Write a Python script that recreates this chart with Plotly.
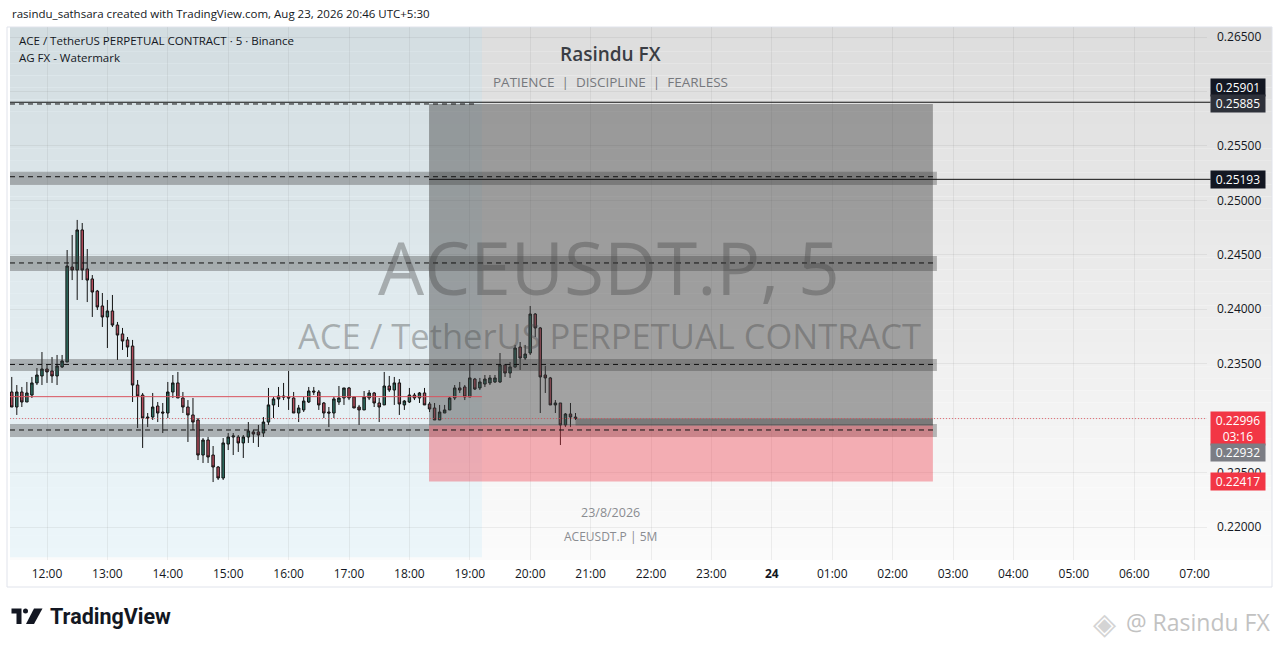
import pandas as pd
import plotly.graph_objects as go

# ---------------- data ----------------
start_time = "2026-08-23 11:25"   # first 5-minute candle

opens = [
    0.23240, 0.23102, 0.23240, 0.23148, 0.23212, 0.23323, 0.23387, 0.23451, 0.23433, 0.23387,
    0.23470, 0.23515, 0.24388, 0.24360, 0.24728, 0.24370, 0.24278, 0.24167, 0.24030, 0.23929,
    0.23984, 0.23855, 0.23773, 0.23718, 0.23662, 0.23304, 0.23212, 0.23010, 0.23010, 0.23111,
    0.23056, 0.23047, 0.23240, 0.23323, 0.23185, 0.23102, 0.23029, 0.22983, 0.22661, 0.22799,
    0.22661, 0.22551, 0.22450, 0.22762, 0.22827, 0.22827, 0.22772, 0.22827, 0.22873, 0.22873,
    0.22863, 0.22964, 0.23121, 0.23176, 0.23203, 0.23194, 0.23185, 0.23047, 0.23075, 0.23148,
    0.23249, 0.23240, 0.23139, 0.23056, 0.23047, 0.23148, 0.23185, 0.23277, 0.23194, 0.23102,
    0.23075, 0.23185, 0.23231, 0.23139, 0.23121, 0.23295, 0.23258, 0.23323, 0.23121, 0.23148,
    0.23212, 0.23185, 0.23231, 0.23130, 0.23093, 0.22983, 0.23047, 0.23075, 0.23185, 0.23277,
    0.23286, 0.23194, 0.23359, 0.23277, 0.23313, 0.23323, 0.23332, 0.23332, 0.23488, 0.23414,
    0.23470, 0.23653, 0.23552, 0.23598, 0.23956, 0.23828, 0.23396, 0.23369, 0.23121, 0.23139,
    0.22937, 0.23038, 0.23010,
]
highs = [
    0.23378, 0.23304, 0.23286, 0.23332, 0.23378, 0.23460, 0.23607, 0.23488, 0.23561, 0.23580,
    0.23580, 0.24544, 0.24682, 0.24820, 0.24792, 0.24553, 0.24314, 0.24177, 0.24149, 0.24085,
    0.24131, 0.23883, 0.23828, 0.23745, 0.23718, 0.23350, 0.23231, 0.23047, 0.23231, 0.23148,
    0.23139, 0.23332, 0.23396, 0.23424, 0.23240, 0.23166, 0.23185, 0.23001, 0.22817, 0.22827,
    0.22744, 0.22560, 0.22817, 0.22863, 0.22863, 0.22845, 0.22845, 0.22964, 0.22891, 0.22937,
    0.23010, 0.23277, 0.23194, 0.23286, 0.23323, 0.23433, 0.23240, 0.23121, 0.23194, 0.23286,
    0.23286, 0.23258, 0.23148, 0.23102, 0.23194, 0.23295, 0.23277, 0.23286, 0.23194, 0.23121,
    0.23249, 0.23258, 0.23240, 0.23185, 0.23424, 0.23387, 0.23378, 0.23359, 0.23166, 0.23277,
    0.23231, 0.23240, 0.23277, 0.23148, 0.23139, 0.23121, 0.23121, 0.23194, 0.23304, 0.23332,
    0.23304, 0.23497, 0.23369, 0.23369, 0.23396, 0.23396, 0.23396, 0.23598, 0.23497, 0.23515,
    0.23672, 0.23699, 0.23672, 0.24030, 0.23965, 0.23837, 0.23479, 0.23378, 0.23166, 0.23139,
    0.23047, 0.23139, 0.23047,
]
lows = [
    0.23102, 0.23029, 0.23102, 0.23148, 0.23185, 0.23304, 0.23304, 0.23323, 0.23323, 0.23304,
    0.23460, 0.23515, 0.24268, 0.24085, 0.24268, 0.24066, 0.23929, 0.23993, 0.23837, 0.23644,
    0.23837, 0.23534, 0.23626, 0.23561, 0.23148, 0.22909, 0.22726, 0.22918, 0.22983, 0.22964,
    0.22863, 0.23001, 0.23185, 0.23185, 0.23047, 0.22781, 0.22891, 0.22615, 0.22588, 0.22588,
    0.22413, 0.22432, 0.22432, 0.22707, 0.22661, 0.22689, 0.22634, 0.22772, 0.22772, 0.22735,
    0.22827, 0.22937, 0.23001, 0.23102, 0.23166, 0.23075, 0.23047, 0.22964, 0.23056, 0.23139,
    0.23212, 0.23075, 0.23001, 0.22918, 0.23001, 0.23121, 0.23121, 0.23166, 0.23093, 0.22937,
    0.23075, 0.23166, 0.23102, 0.22964, 0.23121, 0.23240, 0.23121, 0.23029, 0.23075, 0.23139,
    0.23166, 0.23139, 0.23121, 0.23056, 0.22983, 0.22983, 0.23047, 0.23075, 0.23166, 0.23231,
    0.23166, 0.23194, 0.23258, 0.23258, 0.23286, 0.23304, 0.23323, 0.23323, 0.23378, 0.23369,
    0.23460, 0.23442, 0.23534, 0.23580, 0.23745, 0.23047, 0.23231, 0.23121, 0.23047, 0.22753,
    0.22918, 0.22918, 0.22983,
]
closes = [
    0.23102, 0.23240, 0.23148, 0.23231, 0.23323, 0.23396, 0.23451, 0.23424, 0.23387, 0.23479,
    0.23525, 0.24397, 0.24360, 0.24728, 0.24360, 0.24268, 0.24158, 0.24021, 0.23929, 0.23984,
    0.23855, 0.23763, 0.23708, 0.23653, 0.23304, 0.23203, 0.23001, 0.23001, 0.23102, 0.23047,
    0.23047, 0.23240, 0.23323, 0.23185, 0.23102, 0.23029, 0.22964, 0.22661, 0.22799, 0.22643,
    0.22551, 0.22450, 0.22772, 0.22827, 0.22836, 0.22772, 0.22827, 0.22882, 0.22854, 0.22845,
    0.22964, 0.23121, 0.23176, 0.23203, 0.23194, 0.23185, 0.23047, 0.23093, 0.23157, 0.23249,
    0.23240, 0.23121, 0.23047, 0.23047, 0.23176, 0.23185, 0.23277, 0.23185, 0.23093, 0.23075,
    0.23194, 0.23231, 0.23139, 0.23102, 0.23295, 0.23258, 0.23323, 0.23130, 0.23157, 0.23212,
    0.23185, 0.23231, 0.23121, 0.23084, 0.22983, 0.23056, 0.23075, 0.23185, 0.23277, 0.23258,
    0.23194, 0.23369, 0.23267, 0.23332, 0.23359, 0.23369, 0.23369, 0.23488, 0.23414, 0.23470,
    0.23644, 0.23552, 0.23589, 0.23956, 0.23828, 0.23378, 0.23369, 0.23121, 0.23139, 0.22937,
    0.23038, 0.23010, 0.22996,
]

price_ticks = [0.220, 0.225, 0.230, 0.235, 0.240, 0.245, 0.250, 0.255, 0.260, 0.265]
hidden_ticks = [0.230, 0.260]          # covered by price labels in the reference
hour_ticks = pd.date_range("2026-08-23 12:00", "2026-08-24 07:00", freq="1h")
hour_labels = ["<b>24</b>" if t.hour == 0 else t.strftime("%H:%M") for t in hour_ticks]

# drawing levels (prices) and times
stop_level = 0.25885
entry_level = 0.22932
target_level = 0.22417
last_price = 0.22996
line_top = 0.25901
line_mid = 0.25193
red_level = 0.23197
zones = [  # (low, high, dashed)
    (0.25141, 0.25263, 0.25217),
    (0.24351, 0.24489, 0.24425),
    (0.23433, 0.23543, 0.23493),
    (0.22827, 0.22946, 0.22891),
]
x_start = "2026-08-23 11:23:15"
x_end = "2026-08-24 07:12:18"
box_left = "2026-08-23 18:19:30"
box_right = "2026-08-24 02:40:00"
zone_right = "2026-08-24 02:44:00"
blue_right = "2026-08-23 19:12:00"
dash_top_right = "2026-08-23 19:05:00"

times = pd.date_range(start_time, periods=len(opens), freq="5min")

# ---------------- figure ----------------
W, H = 1281, 647
L, R, T, B = 10, 74, 27, 87
PW, PH = W - L - R, H - T - B


def pxx(x):
    return (x - L) / PW


def pxy(y):
    return (H - B - y) / PH


FONT = "Open Sans"
fig = go.Figure()
fig.add_trace(go.Candlestick(
    x=times, open=opens, high=highs, low=lows, close=closes,
    increasing=dict(line=dict(color="#121212", width=1), fillcolor="#2e7063"),
    decreasing=dict(line=dict(color="#121212", width=1), fillcolor="#b34b5b"),
    whiskerwidth=0, showlegend=False, hoverinfo="skip",
))

shapes = []
# background gradient (plot + price axis area)
N = 44
top_c, bot_c = (221, 221, 221), (251, 251, 251)
for i in range(N):
    f = i / (N - 1)
    c = tuple(int(round(top_c[k] + (bot_c[k] - top_c[k]) * f)) for k in range(3))
    shapes.append(dict(type="rect", xref="paper", yref="paper", x0=0, x1=pxx(1272),
                       y0=1 - (i + 1) / N, y1=1 - i / N, fillcolor="rgb(%d,%d,%d)" % c,
                       line=dict(width=0), layer="below"))
# light blue rectangle
shapes.append(dict(type="rect", xref="x", yref="paper", x0=x_start, x1=blue_right, y0=0.005, y1=1,
                   fillcolor="rgba(160,225,250,0.16)", line=dict(width=0), layer="below"))
# zones
for lo, hi, mid in zones:
    shapes.append(dict(type="rect", xref="x", yref="y", x0=x_start, x1=zone_right, y0=lo, y1=hi,
                       fillcolor="rgba(60,60,60,0.35)", line=dict(width=0), layer="above"))
# position tool boxes
shapes.append(dict(type="rect", xref="x", yref="y", x0=box_left, x1=box_right, y0=entry_level, y1=stop_level,
                   fillcolor="rgba(65,65,65,0.45)", line=dict(width=0), layer="above"))
shapes.append(dict(type="rect", xref="x", yref="y", x0=box_left, x1=box_right, y0=target_level, y1=entry_level,
                   fillcolor="rgba(240,55,70,0.38)", line=dict(width=0), layer="above"))
shapes.append(dict(type="rect", xref="x", yref="y", x0=times[-1], x1=box_right, y0=entry_level, y1=last_price,
                   fillcolor="rgba(50,50,50,0.35)", line=dict(width=0), layer="above"))
# dashed zone lines
for lo, hi, mid in zones:
    shapes.append(dict(type="line", xref="x", yref="y", x0=x_start, x1=zone_right, y0=mid, y1=mid,
                       line=dict(color="#111", width=1, dash="5px,4px"), layer="above"))
shapes.append(dict(type="line", xref="x", yref="y", x0=x_start, x1=dash_top_right, y0=stop_level, y1=stop_level,
                   line=dict(color="#111", width=1, dash="5px,4px"), layer="above"))
# solid horizontal lines into the price scale
shapes.append(dict(type="line", xref="paper", yref="y", x0=0, x1=1.003, y0=line_top, y1=line_top,
                   line=dict(color="#111", width=1), layer="above"))
shapes.append(dict(type="line", xref="x", yref="y", x0=box_left, x1=x_end, y0=line_mid, y1=line_mid,
                   line=dict(color="#111", width=1), layer="above"))
shapes.append(dict(type="line", xref="paper", yref="y", x0=1, x1=1.003, y0=line_mid, y1=line_mid,
                   line=dict(color="#111", width=1), layer="above"))
# red line & current price line
shapes.append(dict(type="line", xref="x", yref="y", x0=x_start, x1=blue_right, y0=red_level, y1=red_level,
                   line=dict(color="#d9545f", width=1), layer="above"))
shapes.append(dict(type="line", xref="x", yref="y", x0=x_start, x1=x_end, y0=last_price, y1=last_price,
                   line=dict(color="rgba(225,70,80,0.75)", width=1, dash="1px,2px"), layer="above"))
# frame
shapes.append(dict(type="rect", xref="paper", yref="paper", x0=pxx(7), x1=pxx(1272), y0=pxy(587), y1=1,
                   line=dict(color="#e0e3eb", width=1), fillcolor="rgba(0,0,0,0)", layer="below"))


# TradingView logo icon (paper coords from pixel positions)
def path(points):
    s = "M " + " L ".join("%f,%f" % (pxx(x), pxy(y)) for x, y in points) + " Z"
    return s


shapes.append(dict(type="path", xref="paper", yref="paper",
                   path=path([(11.5, 608.5), (21.5, 608.5), (21.5, 624), (16.5, 624), (16.5, 613.5), (11.5, 613.5)]),
                   fillcolor="#131722", line=dict(width=0)))
shapes.append(dict(type="circle", xref="paper", yref="paper", x0=pxx(23), x1=pxx(28), y0=pxy(613.5), y1=pxy(608.5),
                   fillcolor="#131722", line=dict(width=0)))
shapes.append(dict(type="path", xref="paper", yref="paper",
                   path=path([(34, 608.5), (42.5, 608.5), (34, 624), (26, 624)]),
                   fillcolor="#131722", line=dict(width=0)))

ann = []


def text(x, y, s, size, color, xanchor="center", family=FONT, weight="normal", **kw):
    ann.append(dict(x=pxx(x), y=pxy(y), xref="paper", yref="paper", text=s, showarrow=False,
                    xanchor=xanchor, yanchor="middle",
                    font=dict(size=size, color=color, family=family, weight=weight), **kw))


text(10, 14, "rasindu_sathsara created with TradingView.com, Aug 23, 2026 20:46 UTC+5:30", 11.5, "#131722", "left")
text(17, 41, "ACE / TetherUS PERPETUAL CONTRACT · 5 · Binance", 11.5, "#131722", "left")
text(17, 58, "AG FX - Watermark", 11.5, "#131722", "left")
text(610, 54, "Rasindu FX", 19, "#3a3d44", weight=600)
text(610, 82, "PATIENCE  |  DISCIPLINE  |  FEARLESS", 13.5, "#76787d")
text(609, 266, "ACEUSDT.P, 5", 73, "rgba(70,70,70,0.38)")
text(609, 335, "ACE / TetherUS PERPETUAL CONTRACT", 34.5, "rgba(70,70,70,0.38)")
text(610, 512, "23/8/2026", 12.5, "#8a8c91")
text(610, 536, "ACEUSDT.P | 5M", 12, "#8a8c91")
text(48, 616, "<b>TradingView</b>", 21.5, "#131722", "left", family="Roboto")
text(1104, 622, "◈", 30, "#d4d4d4")
text(1272, 622, "@ Rasindu FX", 23, "#c2c2c2", "right")


# price scale labels
def plabel(price, s, bg, yshift=0, color="white", yanchor="middle"):
    ann.append(dict(x=pxx(1238), y=price, xref="paper", yref="y", text=s, showarrow=False,
                    xanchor="center", yanchor=yanchor, yshift=yshift, bgcolor=bg, width=54, borderpad=0,
                    font=dict(size=12, color=color, family=FONT)))


plabel(line_top, "0.25901", "#131722", yshift=15)
plabel(stop_level, "0.25885", "#2e313a")
plabel(line_mid, "0.25193", "#131722")
plabel(last_price, "0.22996<br>03:16", "#f23645", yshift=8, yanchor="top")
plabel(entry_level, "0.22932", "#7b7d84", yshift=-27)
plabel(target_level, "0.22417", "#f23645")

fig.update_layout(
    width=W, height=H, margin=dict(l=L, r=R, t=T, b=B),
    paper_bgcolor="white", plot_bgcolor="rgba(0,0,0,0)",
    shapes=shapes, annotations=ann, showlegend=False,
    font=dict(family=FONT, size=12, color="#131722"),
    xaxis=dict(type="date", range=[x_start, x_end], rangeslider=dict(visible=False),
               tickvals=list(hour_ticks), ticktext=hour_labels, showgrid=True,
               gridcolor="rgba(110,110,110,0.10)", gridwidth=1, zeroline=False, showline=False,
               ticks="", tickfont=dict(size=12, color="#131722"), ticklabelstandoff=5),
    yaxis=dict(side="right", range=[0.21697, 0.26592], tickvals=price_ticks,
               ticktext=["" if v in hidden_ticks else "%.5f" % v for v in price_ticks], showgrid=True,
               gridcolor="rgba(110,110,110,0.10)", zeroline=False, showline=False, ticks="",
               tickfont=dict(size=12, color="#131722"), ticklabelstandoff=9),
)

fig.write_html("out.html", config={"displayModeBar": False},
               post_script="document.body.style.margin='0';document.body.style.overflow='hidden';")
